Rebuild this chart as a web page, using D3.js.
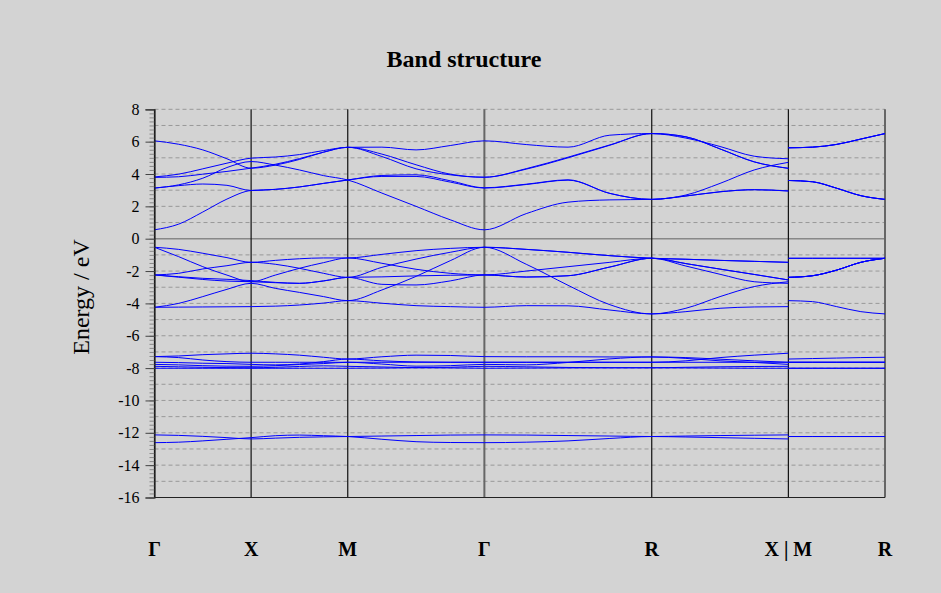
<!DOCTYPE html>
<html>
<head>
<meta charset="utf-8">
<script src="https://cdn.jsdelivr.net/npm/d3@7"></script>
<style>
  body { margin: 0; background: #d3d3d3; }
  svg { display: block; font-family: "Liberation Serif", "Times New Roman", serif; }
</style>
</head>
<body>
<svg id="chart" width="941" height="593"></svg>
<script>
// high symmetry points along the path, distance in units of 2pi/a
const kLabels = ['Γ', 'X', 'M', 'Γ', 'R', 'X | M', 'R'];
const kNodes = [0, 0.5, 1.0, 1.7071, 2.5731, 3.2802, 3.7802];
// segments (node index pairs); the last one comes after the X|M break
const segments = [[0, 1], [1, 2], [2, 3], [3, 4], [4, 5], [5, 6]];
const sampleFrac = [0, 0.25, 0.5, 0.75, 1];
const energyTicks = [-16, -14, -12, -10, -8, -6, -4, -2, 0, 2, 4, 6, 8];

// each band: energies (eV) per segment  G-X, X-M, M-G, G-R, R-X, M-R
const conductionBands = [
  [[6.05, 5.84, 5.49, 4.94, 4.36], [4.36, 4.55, 4.9, 5.35, 5.65], [5.65, 5.23, 4.57, 3.99, 3.8], [3.8, 4.3, 5.0, 5.78, 6.5], [6.5, 6.3, 5.55, 4.75, 4.35], [5.62, 5.66, 5.83, 6.16, 6.5]],
  [[3.82, 3.99, 4.32, 4.67, 4.98], [4.98, 5.05, 5.2, 5.45, 5.65], [5.65, 5.66, 5.49, 5.76, 6.05], [6.05, 5.82, 5.66, 6.4, 6.5], [6.5, 6.22, 5.7, 5.1, 4.94], [5.62, 5.66, 5.83, 6.16, 6.5]],
  [[3.79, 3.83, 3.99, 4.16, 4.36], [4.36, 4.6, 4.95, 5.35, 5.65], [5.65, 5.08, 4.32, 3.95, 3.8], [3.8, 4.33, 5.04, 5.8, 6.5], [6.5, 6.3, 5.55, 4.75, 4.35], [5.62, 5.66, 5.83, 6.16, 6.5]],
  [[3.13, 3.33, 3.74, 4.4, 4.77], [4.77, 4.55, 4.25, 3.9, 3.63], [3.63, 2.82, 2.0, 1.17, 0.55], [0.55, 1.55, 2.26, 2.4, 2.43], [2.43, 2.7, 3.42, 4.25, 4.72], [3.6, 3.52, 3.12, 2.66, 2.43]],
  [[3.13, 3.28, 3.38, 3.3, 2.98], [2.98, 3.05, 3.2, 3.42, 3.63], [3.63, 3.91, 3.95, 3.58, 3.15], [3.15, 3.37, 3.64, 2.8, 2.43], [2.43, 2.64, 2.9, 3.03, 2.95], [3.6, 3.52, 3.12, 2.66, 2.43]],
  [[0.55, 0.9, 1.65, 2.45, 2.98], [2.98, 3.05, 3.2, 3.42, 3.63], [3.63, 3.85, 3.85, 3.5, 3.13], [3.13, 3.35, 3.62, 2.8, 2.43], [2.43, 2.64, 2.9, 3.03, 2.95], [3.6, 3.52, 3.12, 2.66, 2.43]]
];

const valenceBands = [
  [[-0.53, -0.66, -0.9, -1.17, -1.46], [-1.46, -1.34, -1.24, -1.19, -1.19], [-1.19, -0.97, -0.74, -0.6, -0.53], [-0.53, -0.66, -0.84, -1.05, -1.21], [-1.21, -1.27, -1.34, -1.4, -1.46], [-1.21, -1.21, -1.21, -1.21, -1.21]],
  [[-0.53, -1.11, -1.73, -2.25, -2.66], [-2.66, -2.25, -1.83, -1.48, -1.19], [-1.19, -1.52, -1.89, -2.14, -2.24], [-2.24, -2.0, -1.73, -1.46, -1.21], [-1.21, -1.69, -2.2, -2.66, -2.76], [-1.21, -1.21, -1.21, -1.21, -1.21]],
  [[-2.24, -2.14, -1.87, -1.67, -1.46], [-1.46, -1.58, -1.83, -2.14, -2.39], [-2.39, -1.77, -1.26, -0.84, -0.53], [-0.53, -1.58, -2.88, -4.08, -4.65], [-4.65, -4.3, -3.58, -2.96, -2.66], [-2.39, -2.29, -1.94, -1.46, -1.21]],
  [[-2.24, -2.35, -2.45, -2.51, -2.59], [-2.59, -2.7, -2.76, -2.61, -2.39], [-2.39, -2.36, -2.3, -2.26, -2.24], [-2.24, -2.37, -2.29, -1.75, -1.21], [-1.21, -1.54, -1.88, -2.21, -2.55], [-2.39, -2.29, -1.94, -1.46, -1.21]],
  [[-4.24, -4.0, -3.58, -3.13, -2.76], [-2.76, -3.07, -3.32, -3.58, -3.83], [-3.83, -3.17, -2.33, -1.36, -0.53], [-0.53, -0.66, -0.84, -1.05, -1.21], [-1.21, -1.27, -1.34, -1.4, -1.46], [-2.39, -2.29, -1.94, -1.46, -1.21]],
  [[-4.24, -4.23, -4.22, -4.21, -4.2], [-4.2, -4.17, -4.1, -3.98, -3.83], [-3.83, -3.99, -4.14, -4.2, -4.24], [-4.24, -4.14, -4.15, -4.41, -4.65], [-4.65, -4.51, -4.3, -4.22, -4.2], [-3.83, -3.89, -4.2, -4.51, -4.65]],
  [[-2.24, -2.38, -2.52, -2.62, -2.66], [-2.66, -2.72, -2.76, -2.61, -2.39], [-2.39, -2.82, -2.86, -2.61, -2.24], [-2.24, -2.37, -2.29, -1.75, -1.21], [-1.21, -1.54, -1.88, -2.21, -2.55], [-2.39, -2.29, -1.94, -1.46, -1.21]]
];

const semicoreBands = [
  [[-7.29, -7.25, -7.17, -7.12, -7.08], [-7.08, -7.12, -7.2, -7.33, -7.44], [-7.44, -7.3, -7.2, -7.22, -7.29], [-7.29, -7.3, -7.3, -7.31, -7.31], [-7.31, -7.4, -7.55, -7.65, -7.77], [-7.44, -7.41, -7.38, -7.35, -7.33]],
  [[-7.29, -7.35, -7.5, -7.6, -7.64], [-7.64, -7.64, -7.64, -7.64, -7.64], [-7.64, -7.64, -7.64, -7.64, -7.64], [-7.64, -7.64, -7.64, -7.64, -7.64], [-7.64, -7.55, -7.35, -7.2, -7.08], [-7.64, -7.64, -7.64, -7.64, -7.64]],
  [[-7.64, -7.66, -7.7, -7.72, -7.77], [-7.77, -7.8, -7.75, -7.6, -7.44], [-7.44, -7.55, -7.62, -7.64, -7.64], [-7.64, -7.64, -7.64, -7.64, -7.64], [-7.64, -7.64, -7.64, -7.64, -7.64], [-7.64, -7.64, -7.64, -7.64, -7.64]],
  [[-7.77, -7.8, -7.85, -7.88, -7.89], [-7.89, -7.85, -7.78, -7.72, -7.64], [-7.64, -7.75, -7.88, -7.85, -7.77], [-7.77, -7.8, -7.65, -7.43, -7.31], [-7.31, -7.35, -7.45, -7.55, -7.64], [-7.64, -7.64, -7.64, -7.64, -7.64]],
  [[-7.89, -7.92, -7.95, -7.97, -7.98], [-7.98, -7.95, -7.9, -7.86, -7.89], [-7.89, -7.93, -7.97, -7.95, -7.89], [-7.89, -7.92, -7.96, -7.98, -7.98], [-7.98, -7.95, -7.92, -7.9, -7.89], [-8.01, -8.01, -8.01, -8.01, -8.01]],
  [[-8.01, -8.01, -8.01, -8.01, -8.01], [-8.01, -8.01, -8.01, -8.01, -8.01], [-8.01, -8.0, -7.98, -7.99, -8.01], [-8.01, -8.0, -7.99, -7.98, -7.98], [-7.98, -7.99, -8.0, -8.01, -8.01], [-8.01, -8.01, -8.01, -8.01, -8.01]]
];

const deepBands = [
  [[-12.13, -12.16, -12.22, -12.3, -12.38], [-12.38, -12.33, -12.28, -12.25, -12.23], [-12.23, -12.2, -12.17, -12.14, -12.13], [-12.13, -12.14, -12.17, -12.2, -12.23], [-12.23, -12.2, -12.17, -12.15, -12.13], [-12.23, -12.23, -12.23, -12.23, -12.23]],
  [[-12.61, -12.58, -12.5, -12.4, -12.3], [-12.3, -12.18, -12.14, -12.18, -12.23], [-12.23, -12.4, -12.55, -12.6, -12.61], [-12.61, -12.58, -12.5, -12.35, -12.23], [-12.23, -12.26, -12.3, -12.34, -12.38], [-12.23, -12.23, -12.23, -12.23, -12.23]]
];

const svg = d3.select('#chart');
const margin = {top: 109.3, right: 56, bottom: 95.5, left: 154.5};
const width = 941 - margin.left - margin.right;
const height = 593 - margin.top - margin.bottom;

const x = d3.scaleLinear().domain([kNodes[0], kNodes[kNodes.length - 1]]).range([margin.left, margin.left + width]);
const y = d3.scaleLinear().domain([-16, 8]).range([margin.top + height, margin.top]);

// title
svg.append('text')
  .attr('x', 464).attr('y', 67)
  .attr('text-anchor', 'middle')
  .style('font-size', '24px').style('font-weight', 'bold')
  .text('Band structure');

// horizontal grid, dashed every 1 eV
const grid = svg.append('g').attr('class', 'grid');
grid.selectAll('line')
  .data(d3.range(-15, 9).filter(function(e){ return e !== 0 }))
  .enter().append('line')
    .attr('x1', x.range()[0]).attr('x2', x.range()[1])
    .attr('y1', function(d){ return y(d) }).attr('y2', function(d){ return y(d) })
    .style('stroke', '#999').style('stroke-dasharray', '4,3').style('stroke-width', 1);

// zero line
svg.append('line')
  .attr('x1', x.range()[0]).attr('x2', x.range()[1])
  .attr('y1', y(0)).attr('y2', y(0))
  .style('stroke', '#888').style('stroke-width', 1.5);

// vertical lines at the high symmetry points
svg.append('g').selectAll('line')
  .data(kNodes)
  .enter().append('line')
    .attr('x1', function(d){ return x(d) }).attr('x2', function(d){ return x(d) })
    .attr('y1', y(8)).attr('y2', y(-16))
    .style('stroke', function(d, i){ return (i === 3 || i === 6) ? '#666' : '#111' })
    .style('stroke-width', function(d, i){ return (i === 3 || i === 6) ? 2 : 1.2 });

// bands
function bandParts(band){
  const part1 = [];
  for (let s = 0; s < 5; s++){
    const a = kNodes[segments[s][0]], b = kNodes[segments[s][1]];
    band[s].forEach(function(e, j){
      if (s > 0 && j === 0) return;
      part1.push({k: a + (b - a) * sampleFrac[j], e: e});
    });
  }
  const a = kNodes[segments[5][0]], b = kNodes[segments[5][1]];
  const part2 = band[5].map(function(e, j){ return {k: a + (b - a) * sampleFrac[j], e: e} });
  return [part1, part2];
}

const line = d3.line()
  .x(function(d){ return x(d.k) })
  .y(function(d){ return y(d.e) })
  .curve(d3.curveMonotoneX);

const allBands = conductionBands.concat(valenceBands, semicoreBands, deepBands);
const paths = [];
allBands.forEach(function(b){ bandParts(b).forEach(function(p){ paths.push(p) }) });

svg.append('g').attr('class', 'bands')
  .selectAll('path')
  .data(paths)
  .enter().append('path')
    .attr('d', line)
    .style('fill', 'none')
    .style('stroke', '#0000ff')
    .style('stroke-width', 1);

// minor ticks
svg.append('g')
  .attr('transform', 'translate(' + margin.left + ',0)')
  .call(d3.axisLeft(y).tickValues(d3.range(-16, 8.001, 0.25)).tickSize(5).tickFormat(''))
  .call(function(g){ g.select('.domain').remove() })
  .selectAll('line').style('stroke', '#888');

// y axis
const yAxis = svg.append('g')
  .attr('transform', 'translate(' + margin.left + ',0)')
  .call(d3.axisLeft(y).tickValues(energyTicks).tickSize(9).tickPadding(6).tickFormat(function(d){ return String(d) }));
yAxis.select('.domain').style('stroke', '#222').style('stroke-width', 1.2);
yAxis.selectAll('line').style('stroke', '#444');
yAxis.selectAll('text')
  .style('font-family', '"Liberation Serif", "Times New Roman", serif')
  .style('font-size', '16px').style('fill', '#000');

// bottom line
svg.append('line')
  .attr('x1', x.range()[0]).attr('x2', x.range()[1])
  .attr('y1', y(-16)).attr('y2', y(-16))
  .style('stroke', '#222').style('stroke-width', 1.2);

// k labels
svg.append('g').selectAll('text')
  .data(kNodes)
  .enter().append('text')
    .attr('x', function(d){ return x(d) })
    .attr('y', 556)
    .attr('text-anchor', 'middle')
    .style('font-size', '20px').style('font-weight', 'bold')
    .text(function(d, i){ return kLabels[i] });

// y label
svg.append('text')
  .attr('transform', 'translate(89,297) rotate(-90)')
  .attr('text-anchor', 'middle')
  .style('font-size', '24px')
  .text('Energy / eV');
</script>
</body>
</html>
